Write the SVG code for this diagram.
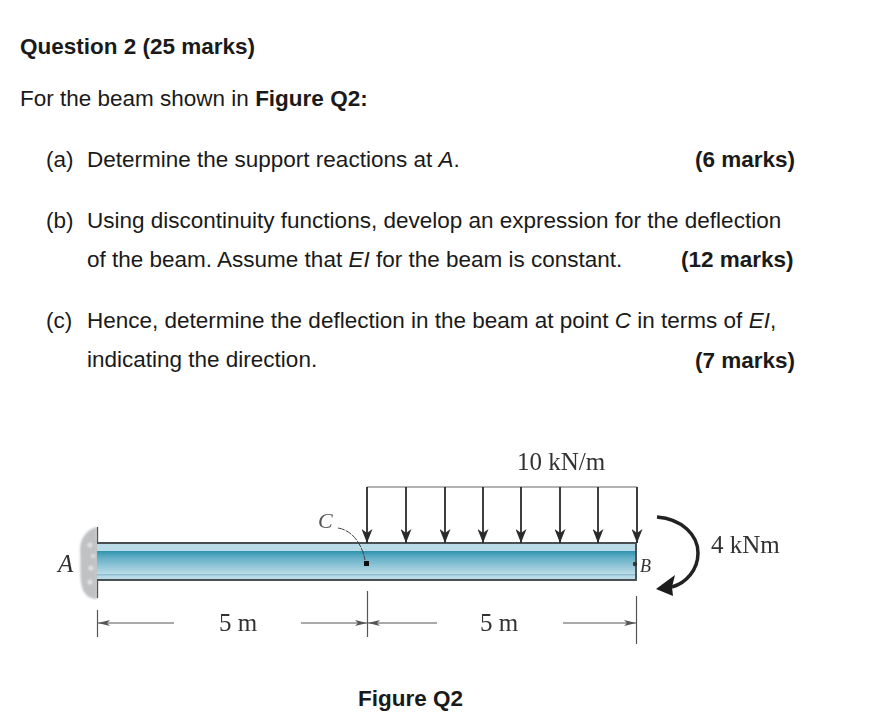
<svg xmlns="http://www.w3.org/2000/svg" width="893" height="716" viewBox="0 0 893 716">
<style>
.t{font-family:"Liberation Sans",Arial,sans-serif;font-size:22.5px;fill:#1a1a1a}
.b{font-weight:bold}
.s{font-family:"Liberation Serif","Times New Roman",serif;font-size:25px;fill:#333}
.i{font-style:italic}
.dim{stroke:#555;stroke-width:1.2;fill:none}
.load{stroke:#2b2b2b;stroke-width:1.8;fill:none}
.top{stroke:#666;stroke-width:1.1;fill:none}
</style>
<defs>
<linearGradient id="beamG" x1="0" y1="0" x2="0" y2="1">
<stop offset="0" stop-color="#2f93ad"/><stop offset="0.25" stop-color="#5eacc4"/><stop offset="1" stop-color="#bcdce8"/>
</linearGradient>
<marker id="ah" markerWidth="15" markerHeight="11" refX="14" refY="5.500" orient="auto" markerUnits="userSpaceOnUse"><path d="M0 0L4 5.500L0 11L14 5.500Z" fill="#2b2b2b"/></marker>
<marker id="dh" markerWidth="12" markerHeight="6" refX="12" refY="3" orient="auto-start-reverse" markerUnits="userSpaceOnUse"><path d="M0 0L12 3L0 6L3 3Z" fill="#555"/></marker>
<filter id="sft" x="-5%" y="-5%" width="110%" height="110%"><feGaussianBlur stdDeviation="0.45"/></filter>
<filter id="wblur" x="-30%" y="-10%" width="160%" height="120%"><feGaussianBlur stdDeviation="1.2"/></filter>
</defs>
<rect width="893" height="716" fill="#fff"/>
<g id="question-text">
<text class="t b" x="20" y="54">Question 2 (25 marks)</text>
<text class="t" x="20" y="106">For the beam shown in <tspan class="b">Figure Q2:</tspan></text>
<text class="t" x="46" y="167">(a)</text>
<text class="t" x="87" y="167">Determine the support reactions at <tspan class="i">A</tspan>.</text>
<text class="t b" x="695" y="167">(6 marks)</text>
<text class="t" x="46" y="228">(b)</text>
<text class="t" x="87" y="228">Using discontinuity functions, develop an expression for the deflection</text>
<text class="t" x="87" y="267">of the beam. Assume that <tspan class="i">EI</tspan> for the beam is constant.</text>
<text class="t b" x="681" y="267">(12 marks)</text>
<text class="t" x="46" y="328">(c)</text>
<text class="t" x="87" y="328">Hence, determine the deflection in the beam at point <tspan class="i">C</tspan> in terms of <tspan class="i">EI</tspan>,</text>
<text class="t" x="87" y="367">indicating the direction.</text>
<text class="t b" x="695" y="368">(7 marks)</text>
<text class="t b" x="358" y="706">Figure Q2</text>
</g>
<g id="wall" filter="url(#wblur)">
<path d="M97 527C88 529 80 537 80 550C81 565 79 580 83 590C86 597 92 599 97 599Z" fill="#bfc1c3"/>
<circle cx="90" cy="545" r="2.500" fill="#e2e3e4"/><circle cx="91" cy="568" r="2.500" fill="#e2e3e4"/><circle cx="90" cy="582" r="2.500" fill="#e2e3e4"/><circle cx="93" cy="556" r="2" fill="#e2e3e4"/>
</g>
<g id="beam" filter="url(#sft)">
<line x1="97.500" y1="527" x2="97.500" y2="598" stroke="#555" stroke-width="1.300"/>
<rect x="97" y="543" width="539" height="37" fill="#b9dbe8"/>
<rect x="97" y="551" width="539" height="23" fill="url(#beamG)"/>
<rect x="97" y="574" width="539" height="1.500" fill="#8fbfd0"/>
<path d="M97 543H636V580H97" fill="none" stroke="#4a4f52" stroke-width="1.800"/>
<line x1="636" y1="543" x2="636" y2="580" stroke="#4a4f52" stroke-width="1.500"/>
</g>
<g id="connectors" filter="url(#sft)">
<path class="top" d="M367 487H637"/>
<line class="load" x1="367" y1="487" x2="367" y2="543" marker-end="url(#ah)"/>
<line class="load" x1="406" y1="487" x2="406" y2="543" marker-end="url(#ah)"/>
<line class="load" x1="445" y1="487" x2="445" y2="543" marker-end="url(#ah)"/>
<line class="load" x1="483" y1="487" x2="483" y2="543" marker-end="url(#ah)"/>
<line class="load" x1="521" y1="487" x2="521" y2="543" marker-end="url(#ah)"/>
<line class="load" x1="560" y1="487" x2="560" y2="543" marker-end="url(#ah)"/>
<line class="load" x1="598" y1="487" x2="598" y2="543" marker-end="url(#ah)"/>
<line class="load" x1="637" y1="487" x2="637" y2="543" marker-end="url(#ah)"/>
<path d="M338 528C352 530 362 544 365 560" fill="none" stroke="#444" stroke-width="1" stroke-dasharray="7 1"/>
<path d="M657 517C682 519 698 535 698 553C698 570 686 583 672 587" fill="none" stroke="#222" stroke-width="3.500"/>
<path d="M656 589L675 575L672 587L673 596Z" fill="#1c1c1c"/>
<line class="dim" x1="97.500" y1="610" x2="97.500" y2="637"/>
<line class="dim" x1="367.500" y1="591" x2="367.500" y2="637"/>
<line class="dim" x1="636.500" y1="596" x2="636.500" y2="644"/>
<line class="dim" x1="98" y1="623" x2="174" y2="623" marker-start="url(#dh)"/>
<line class="dim" x1="301" y1="623" x2="367" y2="623" marker-end="url(#dh)"/>
<line class="dim" x1="368" y1="623" x2="437" y2="623" marker-start="url(#dh)"/>
<line class="dim" x1="563" y1="623" x2="636" y2="623" marker-end="url(#dh)"/>
</g>
<g id="point-c" filter="url(#sft)"><rect x="364" y="561" width="5" height="5" fill="#111"/><text class="s i" x="318" y="528" style="fill:#555;font-size:22px">C</text></g>
<g id="point-b" filter="url(#sft)"><circle cx="635" cy="564" r="2.200" fill="#333"/><text class="s i" x="640" y="572" style="font-size:18px">B</text></g>
<g id="point-a" filter="url(#sft)"><text class="s i" x="58" y="572">A</text></g>
<g id="labels" filter="url(#sft)">
<text class="s" x="517" y="470">10 kN/m</text>
<text class="s" x="711" y="553">4 kNm</text>
<text class="s" x="219" y="631">5 m</text>
<text class="s" x="480" y="631">5 m</text>
</g>
</svg>
